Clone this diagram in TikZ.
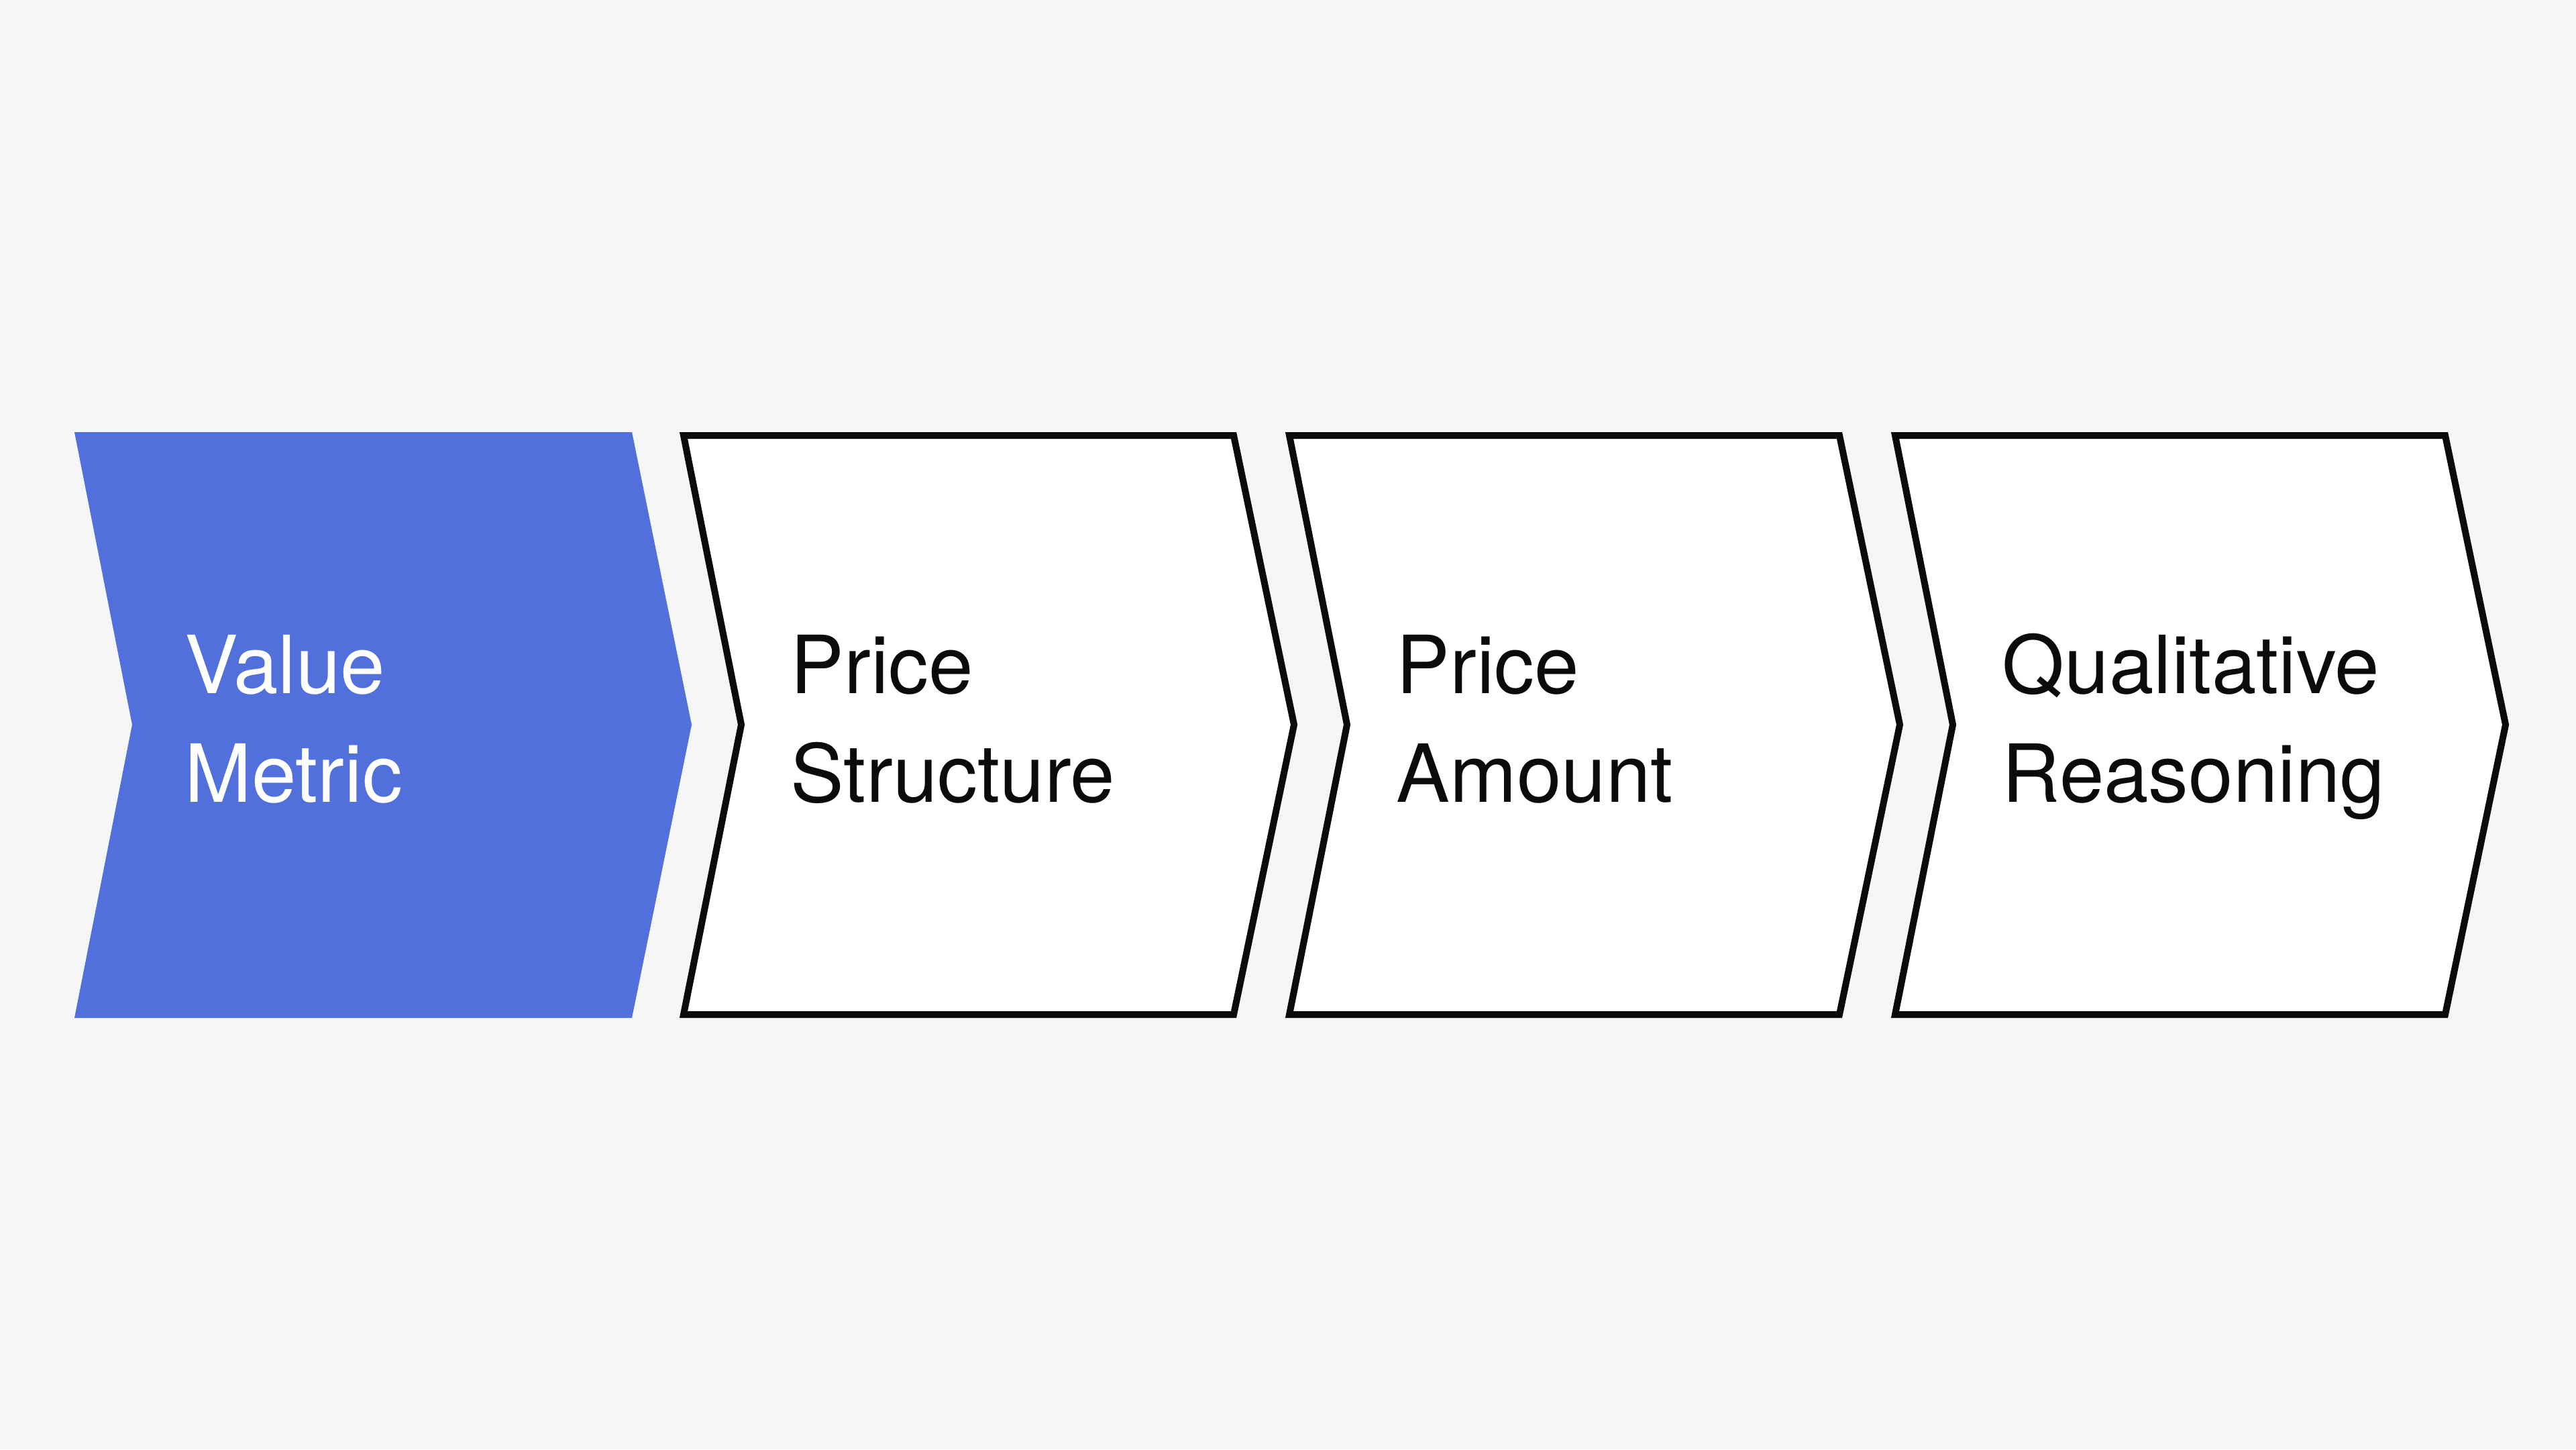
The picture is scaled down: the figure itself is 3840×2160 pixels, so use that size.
\documentclass[tikz,border=0pt]{standalone}
\usepackage{fontspec}
\setmainfont{TeX Gyre Heros}
\definecolor{bgc}{HTML}{F6F6F6}
\definecolor{bluec}{RGB}{81,112,220}
\definecolor{inkc}{HTML}{0A0C0A}
\begin{document}
\begin{tikzpicture}[x=0.01cm,y=-0.01cm,
  whitechev/.style={fill=white,draw=inkc,line width=0.1cm,line join=miter},
  bluechev/.style={fill=bluec,draw=none},
  steplabel/.style={anchor=south west,inner sep=0pt,text depth=0pt,align=left,
    font=\fontsize{34}{46}\selectfont,text=inkc}]
\fill[bgc] (0,0) rectangle (3840,2160);
\useasboundingbox (0,0) rectangle (3840,2160);
% chevrons
\path[bluechev] (111,644) -- (942,644) -- (1031,1080) -- (942,1517) -- (111,1517) -- (197,1080) -- cycle;
\path[whitechev] (1019,649) -- (1839,649) -- (1929,1080) -- (1839,1512) -- (1019,1512) -- (1105,1080) -- cycle;
\path[whitechev] (1922,649) -- (2742,649) -- (2832,1080) -- (2742,1512) -- (1922,1512) -- (2008,1080) -- cycle;
\path[whitechev] (2825,649) -- (3645,649) -- (3735,1080) -- (3645,1512) -- (2825,1512) -- (2911,1080) -- cycle;
% labels
\node[steplabel,text=white] (t1) at (275,1196) {Value\\Metric};
\node[steplabel] (t2) at (1178,1196) {Price\\Structure};
\node[steplabel] (t3) at (2081,1196) {Price\\Amount};
\node[steplabel] (t4) at (2984,1196) {Qualitative\\Reasoning};
\end{tikzpicture}
\end{document}
